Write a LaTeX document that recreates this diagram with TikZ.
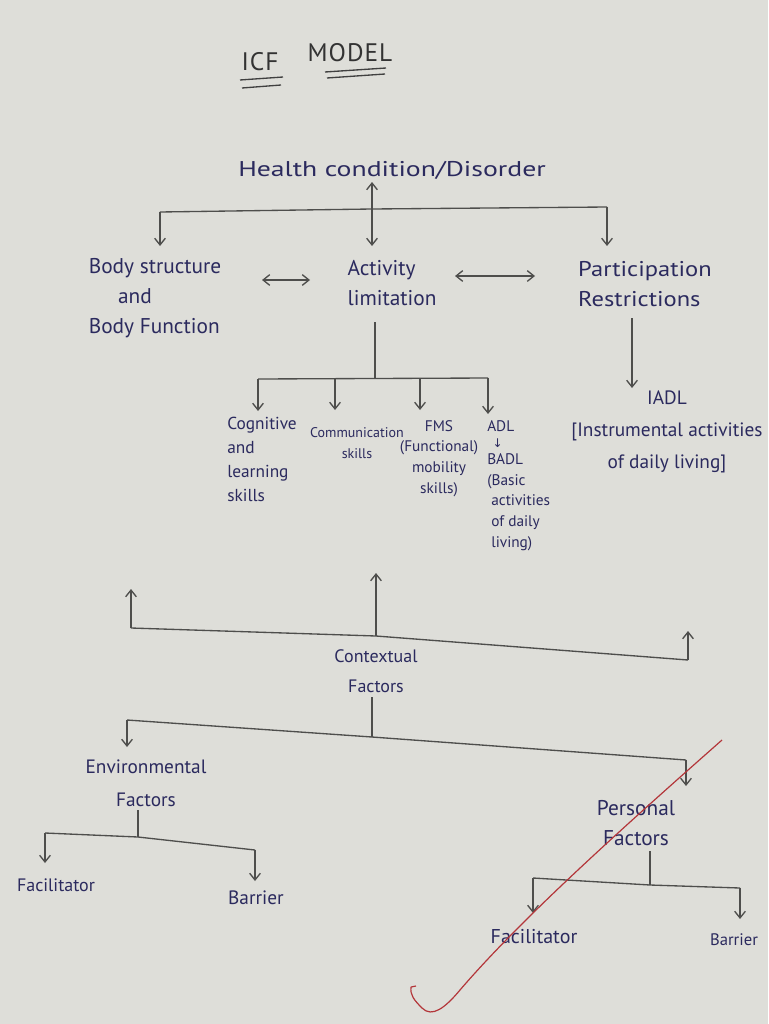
\documentclass[tikz,border=0pt]{standalone}
\usepackage{fontspec}
\setmainfont{PT Sans}
\newfontfamily\symfont{DejaVu Sans}
\usetikzlibrary{arrows.meta}
\definecolor{paper}{HTML}{DEDED9}
\definecolor{ink}{HTML}{2B2A5E}
\definecolor{pencil}{HTML}{4E4E4C}
\definecolor{redpen}{HTML}{B3363A}
\newcommand{\fs}[2]{\fontsize{#1}{#2}\selectfont}
\tikzset{
  txt/.style={inner sep=0pt, text=ink, font=\fs{16}{22.5}},
  small/.style={inner sep=0pt, text=ink, font=\fs{11.5}{15.5}},
  ttl/.style={inner sep=0pt, text=black!80, font=\fs{19}{22}\addfontfeature{LetterSpace=4}},
  ln/.style={draw=pencil, line width=1pt},
  arr/.style={ln, -{Straight Barb[length=5pt,width=8pt]}},
  darr/.style={ln, {Straight Barb[length=5pt,width=8pt]}-{Straight Barb[length=5pt,width=8pt]}},
  uline/.style={draw=black!75, line width=1pt}
}
\begin{document}
\begin{tikzpicture}[x=0.75pt,y=-0.75pt]
\fill[paper] (0,0) rectangle (768,1024);
\useasboundingbox (0,0) rectangle (768,1024);

% title
\node[ttl] (icf) at (260,62) {ICF};
\node[ttl] (model) at (350,53) {MODEL};
\draw[uline] (240,80) -- (283,77);
\draw[uline] (242,88) -- (281,85);
\draw[uline] (325,72) -- (386,68);
\draw[uline] (327,78) -- (385,74);

% top level
\node[txt, xscale=1.3] (health) at (392,170) {Health condition/Disorder};
\coordinate (jtop) at (372,209);
\coordinate (jtl) at (160,212);
\coordinate (jtr) at (607,207);
\draw[ln] (jtl) -- (jtop) -- (jtr);
\node[txt, align=left] (body) at (155,298) {Body structure\\\hspace{22pt}and\\Body Function};
\node[txt, align=left] (act) at (392,283) {Activity\\limitation};
\node[txt, align=left, xscale=1.15] (part) at (645,284) {Participation\\Restrictions};
\draw[arr] (jtop) -- (372,182);
\draw[arr] (jtop) -- (372,246);
\draw[arr] (jtl) -- (160,246);
\draw[arr] (jtr) -- (607,246);
\draw[darr] (262,280) -- (310,280);
\draw[darr] (455,276) -- (535,276);

% activity branches
\coordinate (ja) at (375,378);
\coordinate (ja1) at (258,379);
\coordinate (ja4) at (488,378);
\draw[ln] (375,322) -- (ja);
\draw[ln] (ja1) -- (ja4);
\draw[arr] (ja1) -- (258,411);
\draw[arr] (335,379) -- (335,410);
\draw[arr] (420,378) -- (420,410);
\draw[arr] (ja4) -- (488,414);

\node[small, font=\fs{13}{18}, align=left, anchor=north west] (cog) at (227,417) {Cognitive\\and\\learning\\skills};
\node[small, font=\fs{10.5}{16}, align=center] (comm) at (357,443) {Communication\\skills};
\node[small, align=center, anchor=north] (fms) at (439,420) {FMS\\(Functional)\\mobility\\skills)};
\node[small, align=left, anchor=north west] (adl) at (487,420) {ADL\\[-3pt]\hspace{4pt}{\symfont\fs{9}{9}↓}\\[-3pt]BADL\\(Basic\\\hspace{3pt}activities\\\hspace{3pt}of daily\\\hspace{3pt}living)};

% participation branch
\draw[arr] (632,318) -- (632,388);
\node[txt, font=\fs{14.5}{24}, align=center] (iadl) at (667,432) {IADL\\{}[Instrumental activities\\of daily living]};

% contextual factors bar
\coordinate (cl) at (131,628);
\coordinate (cm) at (376,636);
\coordinate (cr) at (688,660);
\draw[ln] (cl) -- (cm) -- (cr);
\draw[arr] (cl) -- (131,589);
\draw[arr] (cm) -- (376,573);
\draw[arr] (cr) -- (688,631);
\node[txt, font=\fs{13.5}{22.5}, align=center] (ctx) at (376,671) {Contextual\\Factors};

% contextual -> env / personal
\coordinate (kl) at (127,720);
\coordinate (km) at (372,737);
\coordinate (kr) at (686,760);
\draw[ln] (372,697) -- (km);
\draw[ln] (kl) -- (km) -- (kr);
\draw[arr] (kl) -- (127,747);
\draw[arr] (kr) -- (686,786);
\node[txt, font=\fs{14.5}{25}, align=center] (env) at (146,783) {Environmental\\Factors};
\node[txt, font=\fs{16}{22.5}, align=center] (pers) at (636,823) {Personal\\Factors};

% environmental branches
\coordinate (el) at (45,833);
\coordinate (em) at (138,837);
\coordinate (er) at (255,850);
\draw[ln] (138,810) -- (em);
\draw[ln] (el) -- (em) -- (er);
\draw[arr] (el) -- (45,863);
\draw[arr] (er) -- (255,881);
\node[small, font=\fs{13.5}{16}] (fac1) at (56,885) {Facilitator};
\node[small, font=\fs{14.5}{16}] (bar1) at (256,898) {Barrier};

% personal branches
\coordinate (pl) at (533,878);
\coordinate (pm) at (650,885);
\coordinate (pr) at (740,888);
\draw[ln] (650,851) -- (pm);
\draw[ln] (pl) -- (pm) -- (pr);
\draw[arr] (pl) -- (533,913);
\draw[arr] (pr) -- (740,919);
\node[small, font=\fs{15}{16}] (fac2) at (534,937) {Facilitator};
\node[small, font=\fs{12.5}{16}] (bar2) at (734,940) {Barrier};

% red pen stroke
\draw[redpen, line width=0.9pt] (722,740) .. controls (620,830) and (520,920) .. (460,990)
  .. controls (445,1008) and (432,1018) .. (422,1008) .. controls (414,1000) and (410,995) .. (411,987);
\draw[redpen, line width=0.9pt] (411,987) -- (416,986);
\end{tikzpicture}
\end{document}
